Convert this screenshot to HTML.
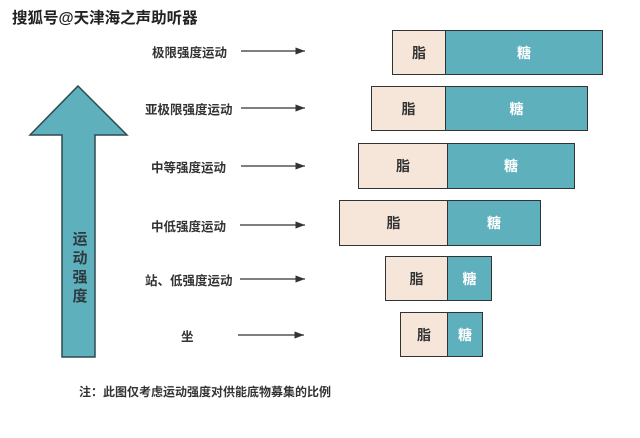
<!DOCTYPE html><html><head><meta charset="utf-8"><style>
body{margin:0;width:640px;height:438px;background:#fff;overflow:hidden;font-family:"Liberation Sans","Noto Sans CJK SC",sans-serif}
.t{position:absolute;font-weight:bold;color:#333;font-size:12.5px;white-space:nowrap}
.b{position:absolute;box-sizing:border-box;border:1.5px solid #333;display:flex}
.f{background:#f6e6da;display:flex;align-items:center;justify-content:center;font-weight:bold;color:#333;font-size:14px;border-right:1.5px solid #333;box-sizing:border-box}
.s{background:#5fb0bd;flex:1;display:flex;align-items:center;justify-content:center;font-weight:bold;color:#fff;font-size:14px}
</style></head><body>
<div class="t" style="left:12px;top:6px;font-size:15.5px;font-weight:bold;color:#222">搜狐号@天津海之声助听器</div>
<svg width="640" height="438" style="position:absolute;left:0;top:0">
<defs><marker id="a" markerWidth="8" markerHeight="6" refX="8" refY="3" orient="auto"><path d="M0,0L8,3L0,6z" fill="#333"/></marker></defs>
<polygon points="78,86 127,135 95,135 95,357 62,357 62,135 30,135" fill="#5fb0bd" stroke="#2d4a52" stroke-width="1.5"/>
<g stroke="#333" stroke-width="1.2" marker-end="url(#a)">
<line x1="241" y1="51" x2="305" y2="51"/><line x1="241" y1="108" x2="305" y2="108"/>
<line x1="241" y1="166" x2="305" y2="166"/><line x1="240" y1="225" x2="305" y2="225"/>
<line x1="240" y1="279" x2="305" y2="279"/><line x1="238" y1="335" x2="304" y2="335"/>
</g></svg>
<div class="t" style="left:71px;top:230px;width:18px;font-size:15px;line-height:19px;color:#2d3a40;text-align:center;white-space:normal">运动强度</div>
<div class="t" style="left:152px;top:42px">极限强度运动</div>
<div class="t" style="left:145px;top:99px">亚极限强度运动</div>
<div class="t" style="left:151px;top:157px">中等强度运动</div>
<div class="t" style="left:151px;top:216px">中低强度运动</div>
<div class="t" style="left:145px;top:270px">站、低强度运动</div>
<div class="t" style="left:181px;top:326px">坐</div>
<div class="t" style="left:79px;top:383px;font-size:12px">注：此图仅考虑运动强度对供能底物募集的比例</div>
<div class="b" style="left:392px;top:30px;width:211px;height:45px"><div class="f" style="width:53px">脂</div><div class="s">糖</div></div>
<div class="b" style="left:371px;top:86px;width:217px;height:45px"><div class="f" style="width:74px">脂</div><div class="s">糖</div></div>
<div class="b" style="left:358px;top:143px;width:217px;height:46px"><div class="f" style="width:89px">脂</div><div class="s">糖</div></div>
<div class="b" style="left:339px;top:200px;width:202px;height:46px"><div class="f" style="width:108px">脂</div><div class="s">糖</div></div>
<div class="b" style="left:385px;top:256px;width:107px;height:45px"><div class="f" style="width:62px">脂</div><div class="s">糖</div></div>
<div class="b" style="left:400px;top:312px;width:83px;height:45px"><div class="f" style="width:47px">脂</div><div class="s">糖</div></div>
</body></html>
